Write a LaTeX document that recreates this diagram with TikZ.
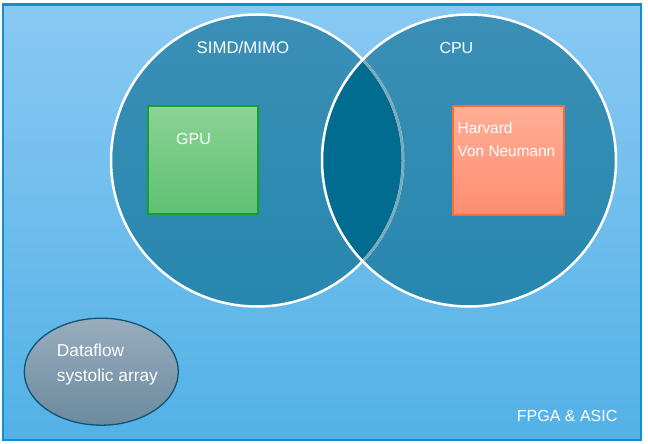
\documentclass[tikz,border=0pt]{standalone}
\usepackage{fontspec}
\setmainfont{Liberation Sans}
\usetikzlibrary{shapes.geometric}
\definecolor{bgtop}{HTML}{89C9F3}
\definecolor{bgbot}{HTML}{53B1E6}
\definecolor{framec}{HTML}{1090CF}
\definecolor{ctop}{HTML}{3B8FB6}
\definecolor{cbot}{HTML}{2787AE}
\definecolor{lensc}{HTML}{006C8F}
\definecolor{greyl}{HTML}{7AA9BB}
\definecolor{gtop}{HTML}{8BD396}
\definecolor{gbot}{HTML}{5EC172}
\definecolor{gline}{HTML}{13A02B}
\definecolor{otop}{HTML}{FFAE96}
\definecolor{obot}{HTML}{FF8D70}
\definecolor{oline}{HTML}{FF6A35}
\definecolor{dtop}{HTML}{98ADBE}
\definecolor{dbot}{HTML}{6C8A9E}
\definecolor{dline}{HTML}{0E5573}
\tikzset{
  lbl/.style={text=white, inner sep=0pt, anchor=base west, font=\fontsize{16bp}{19bp}\selectfont},
  rim/.style={draw=white, line width=2.5bp},
  gpubox/.style={rectangle, draw=gline, line width=2bp, top color=gtop, bottom color=gbot, minimum width=110bp, minimum height=108bp, inner sep=0pt},
  cpubox/.style={rectangle, draw=oline, line width=2bp, top color=otop, bottom color=obot, minimum width=111bp, minimum height=109bp, inner sep=0pt},
  dfell/.style={ellipse, draw=dline, line width=1.3bp, top color=dtop, bottom color=dbot, minimum width=154bp, minimum height=107bp, inner sep=0pt},
}
\begin{document}
\begin{tikzpicture}[x=1bp,y=-1bp]
\useasboundingbox (0,0) rectangle (648,444);
% background frame
\shade[top color=bgtop, bottom color=bgbot] (3,4.5) rectangle (641,440);
\draw[framec, line width=2.3bp] (3,4.5) rectangle (641,440);
% circles
\shade[top color=ctop, bottom color=cbot] (257,160.5) ellipse[x radius=146, y radius=146];
\shade[top color=ctop, bottom color=cbot] (469,160.5) ellipse[x radius=147, y radius=146];
\begin{scope}
  \clip (257,160.5) ellipse[x radius=146, y radius=146];
  \fill[lensc] (469,160.5) ellipse[x radius=147, y radius=146];
\end{scope}
\draw[rim] (257,160.5) ellipse[x radius=146, y radius=146];
\begin{scope}
  \clip (469,160.5) ellipse[x radius=147, y radius=146];
  \draw[greyl, line width=2.5bp] (257,160.5) ellipse[x radius=146, y radius=146];
\end{scope}
\draw[rim] (469,160.5) ellipse[x radius=147, y radius=146];
% boxes
\node[gpubox] (gpubx) at (203,160) {};
\node[cpubox] (cpubx) at (508.5,160.5) {};
\node[dfell] (dfbx) at (101.3,371.7) {};
% labels
\node[lbl, font=\fontsize{16.8bp}{19bp}\selectfont] (simd) at (196.5,53.3) {SIMD/MIMO};
\node[lbl] (cpu) at (439.3,53.3) {CPU};
\node[lbl] (gpu) at (176,144.3) {GPU};
\node[lbl, font=\fontsize{15.4bp}{19bp}\selectfont] (harv) at (457.5,133.3) {Harvard};
\node[lbl, font=\fontsize{15.4bp}{19bp}\selectfont] (vonn) at (457.5,156.5) {Von Neumann};
\node[lbl, font=\fontsize{17.3bp}{19bp}\selectfont] (dataf) at (56.7,356.7) {Dataflow};
\node[lbl, font=\fontsize{17.3bp}{19bp}\selectfont] (syst) at (56.7,381.5) {systolic array};
\node[lbl] (fpga) at (516.7,421.7) {FPGA \& ASIC};
\end{tikzpicture}
\end{document}
